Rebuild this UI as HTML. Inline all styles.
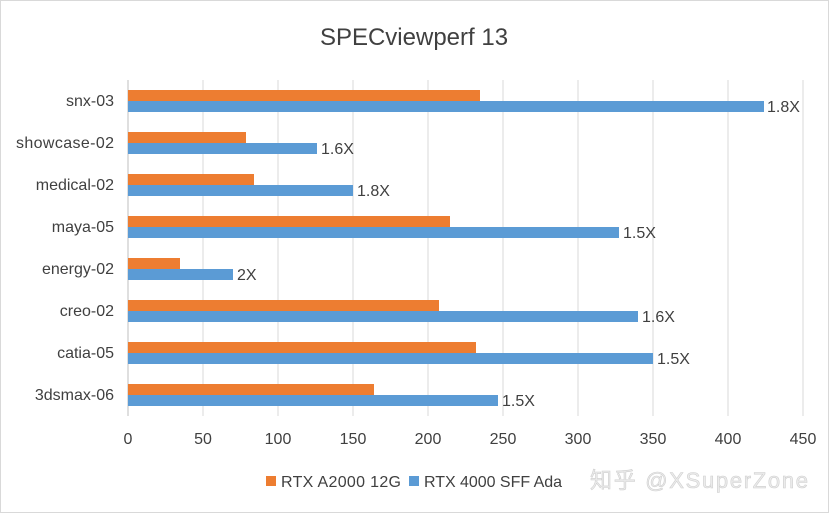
<!DOCTYPE html>
<html><head><meta charset="utf-8"><style>
html,body{margin:0;padding:0;background:#fff;}
svg{display:block;}
text{font-family:"Liberation Sans","Noto Sans CJK SC",sans-serif;}
</style></head><body>
<svg width="829" height="514" xmlns="http://www.w3.org/2000/svg">
<rect x="0.5" y="0.5" width="828" height="512" fill="#fff" stroke="#d9d9d9"/>
<text x="414" y="45" font-size="24" fill="#404040" text-anchor="middle">SPECviewperf 13</text>
<g stroke="#d9d9d9" stroke-width="1">
<line x1="203" y1="80" x2="203" y2="416"/><line x1="278" y1="80" x2="278" y2="416"/>
<line x1="353" y1="80" x2="353" y2="416"/><line x1="428" y1="80" x2="428" y2="416"/>
<line x1="503" y1="80" x2="503" y2="416"/><line x1="578" y1="80" x2="578" y2="416"/>
<line x1="653" y1="80" x2="653" y2="416"/><line x1="728" y1="80" x2="728" y2="416"/>
<line x1="803" y1="80" x2="803" y2="416"/>
</g>
<line x1="128" y1="80" x2="128" y2="416" stroke="#bfbfbf"/>
<g font-size="16" fill="#404040" text-anchor="end">
<text x="114" y="106">snx-03</text>
<text x="114" y="148" textLength="98">showcase-02</text>
<text x="114" y="190">medical-02</text>
<text x="114" y="232">maya-05</text>
<text x="114" y="274">energy-02</text>
<text x="114" y="316">creo-02</text>
<text x="114" y="358">catia-05</text>
<text x="114" y="400">3dsmax-06</text>
</g>
<g fill="#ed7d31">
<rect x="128" y="90" width="352" height="11"/>
<rect x="128" y="132" width="118" height="11"/>
<rect x="128" y="174" width="126" height="11"/>
<rect x="128" y="216" width="322" height="11"/>
<rect x="128" y="258" width="52" height="11"/>
<rect x="128" y="300" width="311" height="11"/>
<rect x="128" y="342" width="348" height="11"/>
<rect x="128" y="384" width="246" height="11"/>
</g>
<g fill="#5b9bd5">
<rect x="128" y="101" width="636" height="11"/>
<rect x="128" y="143" width="189" height="11"/>
<rect x="128" y="185" width="225" height="11"/>
<rect x="128" y="227" width="491" height="11"/>
<rect x="128" y="269" width="105" height="11"/>
<rect x="128" y="311" width="510" height="11"/>
<rect x="128" y="353" width="525" height="11"/>
<rect x="128" y="395" width="370" height="11"/>
</g>
<g font-size="16" fill="#404040">
<text x="767" y="112">1.8X</text>
<text x="321" y="154">1.6X</text>
<text x="357" y="196">1.8X</text>
<text x="623" y="238">1.5X</text>
<text x="237" y="280">2X</text>
<text x="642" y="322">1.6X</text>
<text x="657" y="364">1.5X</text>
<text x="502" y="406">1.5X</text>
</g>
<g font-size="16" fill="#404040" text-anchor="middle">
<text x="128" y="444">0</text><text x="203" y="444">50</text><text x="278" y="444">100</text>
<text x="353" y="444">150</text><text x="428" y="444">200</text><text x="503" y="444">250</text>
<text x="578" y="444">300</text><text x="653" y="444">350</text><text x="728" y="444">400</text>
<text x="803" y="444">450</text>
</g>
<rect x="266" y="476" width="10" height="10" fill="#ed7d31"/>
<text x="281" y="487" font-size="16" fill="#404040" textLength="120">RTX A2000 12G</text>
<rect x="409" y="476" width="10" height="10" fill="#5b9bd5"/>
<text x="424" y="487" font-size="16" fill="#404040" textLength="138">RTX 4000 SFF Ada</text>
<text x="590" y="488" font-size="22" fill="#ececec" stroke="#cfcfcf" stroke-width="0.6" textLength="218">知乎 @XSuperZone</text>
</svg>
</body></html>
